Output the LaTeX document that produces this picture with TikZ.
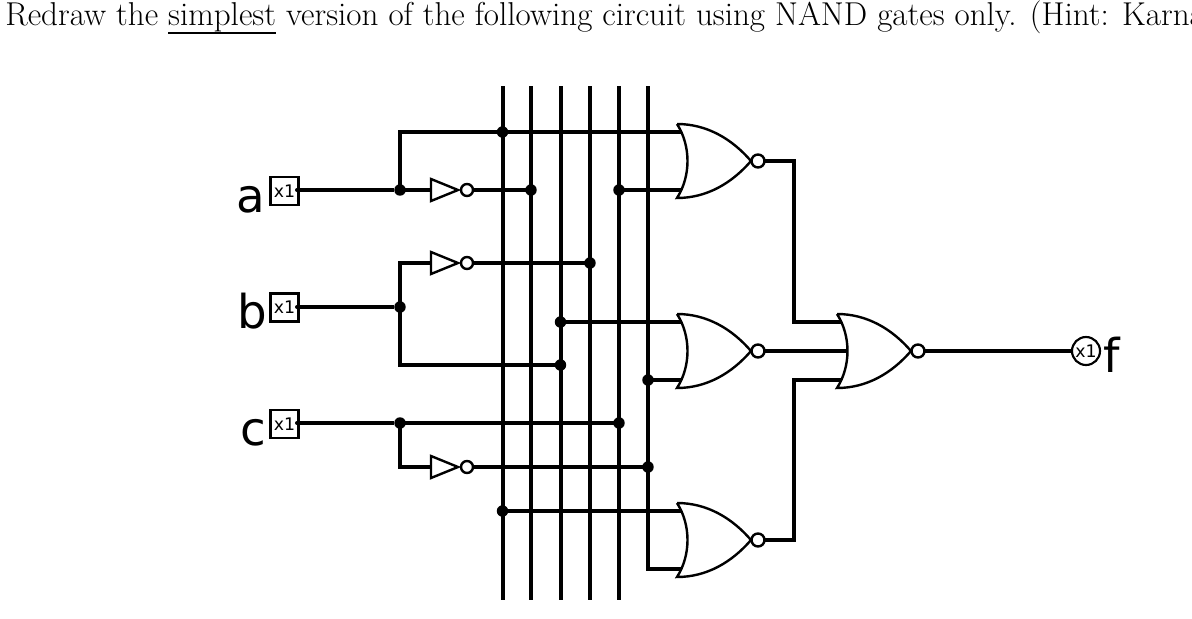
\documentclass[tikz,border=0pt]{standalone}
\usepackage{xcolor}
\usepackage{tikz}
\usepackage{fontspec}
\newfontfamily\labelfont{DejaVu Sans}
\newcommand{\ulword}[1]{\setbox0\hbox{#1}\rlap{\rule[-6.7pt]{\wd0}{1.5pt}}\box0\relax}
\tikzset{
  wire/.style={line width=3pt},
  bus/.style={line width=3pt},
  dot/.style={circle,fill=black,inner sep=0pt,minimum size=8.6pt},
  pin/.style={circle,fill=black,inner sep=0pt,minimum size=3pt},
  probe/.style={draw,line width=1.6pt,fill=white,inner sep=0pt,font=\labelfont\fontsize{13}{13}\selectfont},
  letter/.style={anchor=base,inner sep=0pt,font=\labelfont\fontsize{35}{35}\selectfont},
  gateline/.style={line width=1.8pt,fill=white},
  norgate/.pic={
    \draw[gateline] (0,-37) .. controls (30,-37) and (55,-22) .. (74,0)
      .. controls (55,22) and (30,37) .. (0,37)
      .. controls (14,15) and (14,-15) .. (0,-37);
    \draw[gateline] (81,0) circle[radius=6.5];
    \coordinate (-in1) at (4,-29);
    \coordinate (-in2) at (4,29);
    \coordinate (-in3) at (10,0);
    \coordinate (-out) at (87,0);
  },
  invgate/.pic={
    \draw[gateline] (0,-11) -- (27,0) -- (0,11) -- cycle;
    \draw[gateline] (36,0) circle[radius=6];
    \coordinate (-in) at (0,0);
    \coordinate (-out) at (42,0);
  }
}
\begin{document}
\begin{tikzpicture}[x=0.75pt,y=-0.75pt]
  \clip (0,0) rectangle (1192,618);

  % question line
  \node[anchor=base west,inner sep=0pt,font=\fontsize{24.8}{28}\selectfont] (question) at (5,25)
    {Redraw the \ulword{simplest} version of the following circuit using NAND gates only. (Hint: Karna};

  % vertical lines
  \foreach \name/\xpos/\yend in {v1/502.5/600,v2/531/600,v3/560.5/600,v4/590/600,v5/619/600}{
    \coordinate (\name top) at (\xpos,86);
    \coordinate (\name bot) at (\xpos,\yend);
    \draw[bus] (\name top) -- (\name bot);
  }
  \coordinate (v6top) at (648,86);
  \coordinate (v6bot) at (648,569);

  % gates
  \pic (g1) at (677,161) {norgate};
  \pic (g2) at (677,351) {norgate};
  \pic (g3) at (677,540) {norgate};
  \pic (g4) at (837,351) {norgate};
  \pic (na) at (431,190) {invgate};
  \pic (nb) at (431,263) {invgate};
  \pic (nc) at (431,467) {invgate};

  % inputs and output
  \node[letter] (la) at (251,212) {a};
  \node[letter] (lb) at (252,328) {b};
  \node[letter] (lc) at (253,445) {c};
  \node[probe,minimum size=21pt] (pa) at (284.5,191) {x1};
  \node[probe,minimum size=21pt] (pb) at (284.5,307.5) {x1};
  \node[probe,minimum size=21pt] (pc) at (284.5,424) {x1};
  \node[pin] (ta) at (297,190) {};
  \node[pin] (tb) at (297,307) {};
  \node[pin] (tc) at (297,423) {};
  \node[probe,circle,minimum size=21pt] (pf) at (1086,351) {x1};
  \node[letter] (lf) at (1112,372) {f};

  % junctions
  \node[dot] (ja) at (400,190) {};
  \node[dot] (jb) at (400,307) {};
  \node[dot] (jc) at (400,423) {};
  \node[dot] (j1) at (502.5,132) {};
  \node[dot] (j2) at (531,190) {};
  \node[dot] (j3) at (619,190) {};
  \node[dot] (j4) at (590,263) {};
  \node[dot] (j5) at (560.5,322) {};
  \node[dot] (j6) at (560.5,365) {};
  \node[dot] (j7) at (648,380) {};
  \node[dot] (j8) at (619,423) {};
  \node[dot] (j9) at (648,467) {};
  \node[dot] (j10) at (502.5,511) {};

  % wires
  \draw[wire] (ta) -- (ja);
  \draw[wire] (ja.center) -- (na-in);
  \draw[wire] (ja.center) |- (g1-in1);
  \draw[wire] (na-out) -- (j2.center);
  \draw[wire] (j3.center) -- (g1-in2);
  \draw[wire] (tb) -- (jb);
  \draw[wire] (nb-in) -| (jb.center);
  \draw[wire] (jb.center) |- (j6.center);
  \draw[wire] (nb-out) -- (j4.center);
  \draw[wire] (j5.center) -- (g2-in1);
  \draw[wire] (j7.center) -- (g2-in2);
  \draw[wire] (tc) -- (jc);
  \draw[wire] (jc.center) -- (j8.center);
  \draw[wire] (jc.center) |- (nc-in);
  \draw[wire] (nc-out) -- (j9.center);
  \draw[wire] (j10.center) -- (g3-in1);
  \draw[wire,line join=miter] (v6top) -- (v6bot) -- (g3-in2);
  \coordinate (m1) at (794,161);
  \coordinate (m3) at (794,540);
  \draw[wire] (g1-out) -- (m1) |- (g4-in1);
  \draw[wire] (g2-out) -- (g4-in3);
  \draw[wire] (g3-out) -- (m3) |- (g4-in2);
  \draw[wire] (g4-out) -- (pf);
\end{tikzpicture}
\end{document}
